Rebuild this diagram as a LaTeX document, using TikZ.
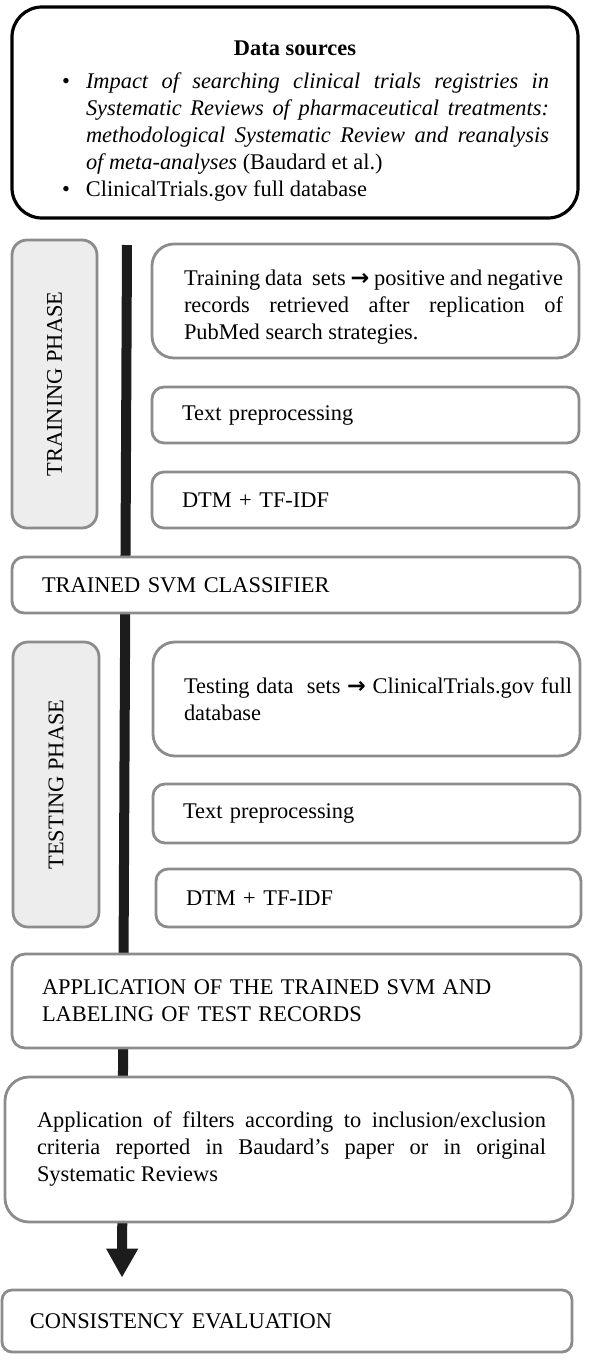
\documentclass[tikz,border=0pt]{standalone}
\usepackage{fontspec}
\setmainfont{Liberation Serif}
\newfontfamily\arrowfont{DejaVu Sans}
\usetikzlibrary{arrows.meta, calc, backgrounds}

\definecolor{boxgray}{RGB}{140,140,140}
\definecolor{phasegray}{RGB}{237,237,237}
\definecolor{spineblack}{RGB}{28,28,28}

\newcommand{\setsto}{{\arrowfont\bfseries →}}

\tikzset{
	box/.style={draw=boxgray, line width=1.4pt, fill=white, rounded corners=#1, inner ysep=0pt, inner xsep=15pt, font=\fontsize{11.2}{13.5}\selectfont},
	box/.default=6pt,
	srcbox/.style={box=15pt, draw=black, line width=1.6pt},
	phase/.style={box=7.5pt, fill=phasegray, rotate=90, inner xsep=0pt},
	spine/.style={draw=spineblack, line width=5pt, -{Triangle[width=15pt,length=14.5pt]}},
}

\begin{document}
\begin{tikzpicture}[x=0.5pt,y=-0.5pt]

	\useasboundingbox (0,0) rectangle (590,1362);

	\node [srcbox, text width=254pt, inner xsep=14.5pt, minimum height=105.5pt, align=justify] (src) at (295,112.5) {{\centering\rule{0pt}{15.5pt}\textbf{Data sources}\par}\vspace{3pt}
		{\leftskip=22.5pt\noindent\llap{\textbullet\hspace{8pt}}\textit{Impact of searching clinical trials registries in\linebreak Systematic Reviews of pharmaceutical treatments:\linebreak methodological Systematic Review and reanalysis\linebreak of meta-analyses} (Baudard et al.)\par
		\noindent\llap{\textbullet\hspace{8pt}}ClinicalTrials.gov full database\par}};

	\node [phase, minimum width=144pt, minimum height=42.5pt] (trainph) at (54.5,384) {TRAINING PHASE};
	\node [box=11pt, text width=197.5pt, inner xsep=8pt, minimum height=57pt, align=justify] (trainset) at (365.5,301) {\leftskip=8pt\rule{0pt}{13.7pt}Training data\ \ sets \setsto{} positive and negative\linebreak records retrieved after replication of\linebreak PubMed search strategies.\par};
	\node [box, text width=183.5pt, minimum height=28pt, align=left] (trainpre) at (365.5,415) {Text preprocessing};
	\node [box, text width=183.5pt, minimum height=28pt, align=left] (traindtm) at (365.5,500) {DTM + TF-IDF};

	\node [box, text width=254pt, minimum height=28pt, align=left] (svm) at (296,585) {TRAINED SVM CLASSIFIER};

	\node [phase, minimum width=142.5pt, minimum height=43pt] (testph) at (56,784.5) {TESTING PHASE};
	\node [box=11pt, text width=205.5pt, inner xsep=4pt, minimum height=57pt, align=justify] (testset) at (366.5,699) {\leftskip=11.5pt Testing data\ \ sets \setsto{} ClinicalTrials.gov full\linebreak database\par};
	\node [box, text width=183.5pt, minimum height=29.5pt, align=left] (testpre) at (366.5,813.5) {Text preprocessing};
	\node [box, text width=182.5pt, minimum height=29pt, align=left] (testdtm) at (368.5,898) {DTM + TF-IDF};

	\node [box=6.5pt, text width=254.5pt, minimum height=47pt, align=left] (apply) at (296.5,1001) {APPLICATION OF THE TRAINED SVM AND\\LABELING OF TEST RECORDS};
	\node [box=12pt, text width=257pt, inner xsep=13.5pt, minimum height=72.5pt, align=justify] (filt) at (289,1149.5) {\leftskip=2.5pt Application of filters according to inclusion/exclusion\linebreak criteria reported in Baudard’s paper or in original\linebreak Systematic Reviews\par};
	\node [box=5pt, text width=257pt, inner xsep=14pt, minimum height=31pt, align=left] (eval) at (287,1321) {CONSISTENCY EVALUATION};

	\coordinate (start) at (127,245);
	\coordinate (tip) at ($(eval.north)+(-165,-11)$);

	\begin{scope}[on background layer]
		\draw [spine] (start) -- (tip);
	\end{scope}

\end{tikzpicture}
\end{document}
